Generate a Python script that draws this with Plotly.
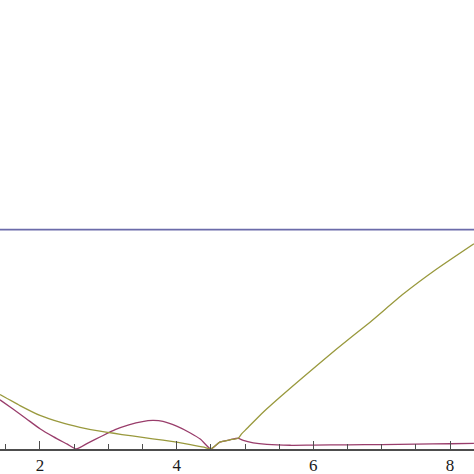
import plotly.graph_objects as go

# horizontal reference level (blue)
level_x = [1.40, 8.40]
level_y = [1.0, 1.0]

# purple branch
purple_x = [1.415, 1.6, 1.8, 2.0, 2.2, 2.4, 2.53, 2.7, 2.9, 3.1, 3.3, 3.5, 3.65,
            3.8, 4.0, 4.2, 4.35, 4.5, 4.63, 4.78, 4.90, 4.975, 5.12, 5.32, 5.66,
            6.0, 6.5, 7.0, 7.5, 8.0, 8.35]
purple_y = [0.224, 0.183, 0.138, 0.092, 0.055, 0.022, 0.0, 0.027, 0.058, 0.088,
            0.110, 0.125, 0.130, 0.126, 0.104, 0.073, 0.044, 0.0, 0.031, 0.042,
            0.049, 0.039, 0.028, 0.021, 0.017, 0.018, 0.019, 0.020, 0.022,
            0.024, 0.026]

# olive branch
olive_x = [1.415, 1.707, 2.0, 2.293, 2.585, 2.878, 3.2, 3.5, 3.8, 4.0, 4.2, 4.4,
           4.5, 4.63, 4.78, 4.90, 4.95, 5.025, 5.17, 5.32, 5.51, 5.85, 6.34, 6.83,
           7.32, 7.81, 8.35]
olive_y = [0.248, 0.198, 0.153, 0.122, 0.099, 0.081, 0.066, 0.053, 0.040, 0.031,
           0.020, 0.008, 0.0, 0.031, 0.042, 0.049, 0.069, 0.092, 0.138, 0.183,
           0.236, 0.327, 0.456, 0.578, 0.707, 0.821, 0.935]

major_ticks = [2, 4, 6, 8]
tick_labels = ["2", "4", "6", "8"]

fig = go.Figure()

fig.add_trace(go.Scatter(x=level_x, y=level_y, mode="lines",
                         line=dict(color="#6b6baa", width=1.8)))
fig.add_trace(go.Scatter(x=purple_x, y=purple_y, mode="lines",
                         line=dict(color="#993d6b", width=1.3, shape="spline",
                                   smoothing=0.5)))
fig.add_trace(go.Scatter(x=olive_x, y=olive_y, mode="lines",
                         line=dict(color="#99993d", width=1.3, shape="spline",
                                   smoothing=0.5)))

fig.update_layout(
    width=474,
    height=474,
    margin=dict(l=0, r=0, t=0, b=25),
    showlegend=False,
    paper_bgcolor="white",
    plot_bgcolor="white",
    font=dict(family="Liberation Serif", size=17, color="#1a1a1a"),
    xaxis=dict(
        range=[1.415, 8.351],
        automargin=False,
        showgrid=False,
        zeroline=False,
        showline=True,
        linecolor="#4d4d4d",
        linewidth=1.5,
        ticks="inside",
        tickvals=major_ticks,
        ticktext=tick_labels,
        ticklen=8,
        tickwidth=1.3,
        tickcolor="#4d4d4d",
        minor=dict(dtick=0.5, tick0=0, ticks="inside", ticklen=5,
                   tickwidth=1.2, tickcolor="#4d4d4d", showgrid=False),
        tickfont=dict(family="Liberation Serif", size=17, color="#1a1a1a"),
    ),
    yaxis=dict(
        range=[0, 2.046],
        visible=False,
    ),
)

# page has a default body margin; drop it so the figure fills the window
fig.write_html("out.html",
               config=dict(displayModeBar=False),
               post_script="document.body.style.margin='0';"
                           "document.body.style.overflow='hidden';")
